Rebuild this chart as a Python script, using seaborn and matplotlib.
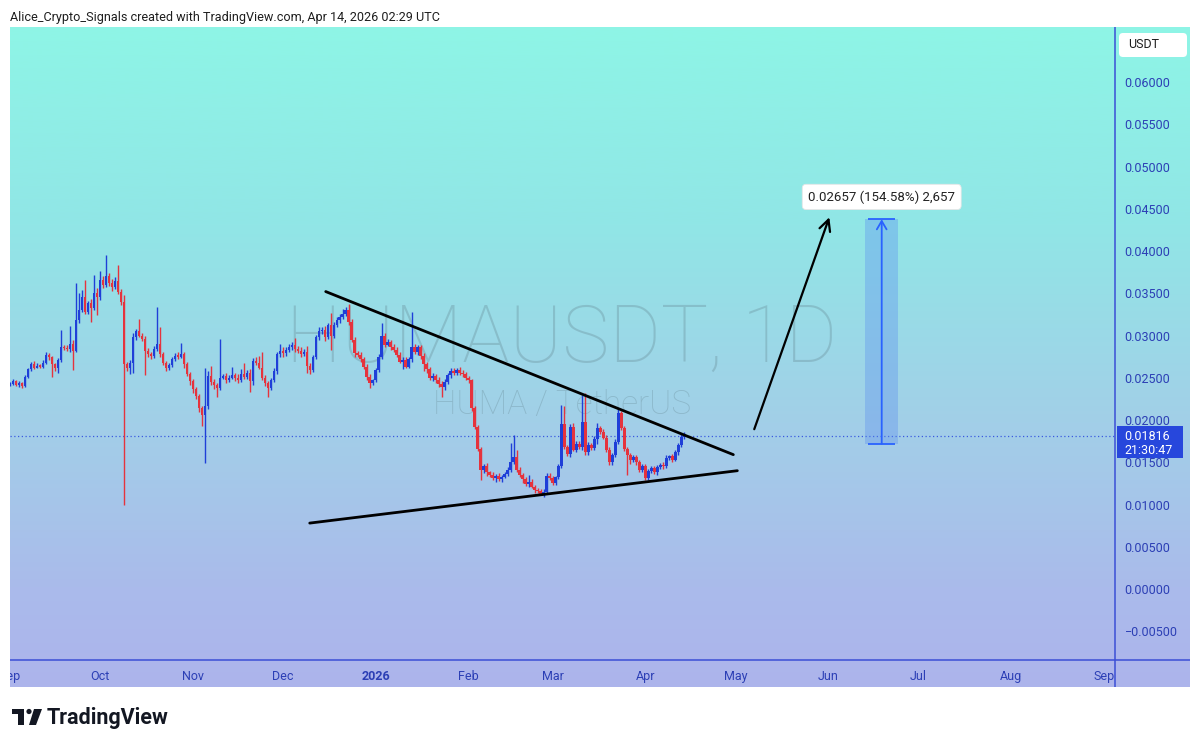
import numpy as np
import pandas as pd
import matplotlib
matplotlib.use("Agg")
import matplotlib.pyplot as plt
import matplotlib.dates as mdates
from matplotlib.colors import LinearSegmentedColormap
from matplotlib.patches import Rectangle, FancyBboxPatch, Polygon, Circle
import seaborn as sns

# --- HUMAUSDT daily candles, 2025-09-01 .. 2026-04-14 ---
first_open = 0.0242
close_sep = [0.0243, 0.0246, 0.0242, 0.0244, 0.0240, 0.0251, 0.0260, 0.0266, 0.0262, 0.0264,
             0.0263, 0.0268, 0.0277, 0.0274, 0.0266, 0.0262, 0.0271, 0.0286, 0.0285, 0.0284,
             0.0290, 0.0282, 0.0318, 0.0330, 0.0346, 0.0328, 0.0338, 0.0333, 0.0350, 0.0345]
close_oct = [0.0366, 0.0360, 0.0370, 0.0362, 0.0357, 0.0365, 0.0352, 0.0340, 0.0266, 0.0262,
             0.0268, 0.0298, 0.0305, 0.0300, 0.0296, 0.0282, 0.0278, 0.0276, 0.0284, 0.0290,
             0.0278, 0.0268, 0.0262, 0.0265, 0.0272, 0.0276, 0.0275, 0.0278, 0.0266, 0.0255,
             0.0246]
close_nov = [0.0237, 0.0228, 0.0214, 0.0206, 0.0216, 0.0252, 0.0245, 0.0241, 0.0238, 0.0250,
             0.0252, 0.0247, 0.0250, 0.0253, 0.0250, 0.0247, 0.0254, 0.0251, 0.0256, 0.0246,
             0.0270, 0.0268, 0.0262, 0.0250, 0.0244, 0.0238, 0.0247, 0.0258, 0.0278, 0.0282]
close_dec = [0.0279, 0.0283, 0.0286, 0.0289, 0.0284, 0.0282, 0.0278, 0.0281, 0.0264, 0.0259,
             0.0275, 0.0298, 0.0305, 0.0307, 0.0298, 0.0312, 0.0300, 0.0313, 0.0318, 0.0322,
             0.0326, 0.0330, 0.0316, 0.0295, 0.0279, 0.0277, 0.0272, 0.0263, 0.0251, 0.0244,
             0.0247]
close_jan = [0.0259, 0.0275, 0.0300, 0.0289, 0.0292, 0.0286, 0.0283, 0.0277, 0.0269, 0.0271,
             0.0263, 0.0272, 0.0286, 0.0280, 0.0286, 0.0276, 0.0266, 0.0260, 0.0250, 0.0252,
             0.0247, 0.0243, 0.0239, 0.0245, 0.0253, 0.0258, 0.0256, 0.0259, 0.0256, 0.0254,
             0.0250]
close_feb = [0.0247, 0.0214, 0.0192, 0.0166, 0.0141, 0.0146, 0.0138, 0.0135, 0.0131, 0.0134,
             0.0130, 0.0133, 0.0136, 0.0141, 0.0150, 0.0156, 0.0141, 0.0135, 0.0130, 0.0124,
             0.0127, 0.0121, 0.0117, 0.0116, 0.0113, 0.0115, 0.0134, 0.0131]
close_mar = [0.0126, 0.0132, 0.0145, 0.0195, 0.0168, 0.0160, 0.0192, 0.0165, 0.0172, 0.0168,
             0.0198, 0.0162, 0.0170, 0.0167, 0.0178, 0.0190, 0.0186, 0.0179, 0.0165, 0.0150,
             0.0158, 0.0174, 0.0208, 0.0190, 0.0166, 0.0158, 0.0153, 0.0156, 0.0150, 0.0141,
             0.0145]
close_apr = [0.0131, 0.0140, 0.0143, 0.0138, 0.0144, 0.0147, 0.0145, 0.0155, 0.0157, 0.0153,
             0.0162, 0.0170, 0.0180, 0.01816]

# wick lengths above / below the candle body, in units of 0.0001 (one row per month)
wick_up = [2, 2, 1, 2, 1, 2, 2, 3, 4, 3, 2, 3, 3, 2, 2, 2, 2, 21, 3, 4, 21, 5, 44, 20, 8, 20, 3, 5, 22, 6,
           10, 5, 25, 4, 5, 4, 18, 3, 8, 3, 3, 5, 3, 14, 3, 4, 3, 2, 3, 44, 20, 3, 2, 3, 2, 3, 4, 13, 3, 3, 2,
           3, 2, 3, 2, 46, 6, 12, 3, 3, 46, 3, 4, 3, 10, 3, 4, 6, 13, 3, 4, 3, 4, 8, 18, 3, 2, 3, 4, 3, 8,
           4, 3, 4, 3, 8, 3, 4, 3, 6, 3, 2, 3, 5, 3, 4, 3, 15, 3, 4, 4, 5, 4, 7, 4, 3, 3, 4, 3, 3, 3, 2,
           3, 3, 15, 3, 4, 3, 4, 3, 4, 3, 3, 3, 42, 4, 3, 3, 3, 3, 3, 4, 3, 4, 3, 3, 3, 3, 4, 3, 4, 3, 3,
           2, 2, 2, 2, 2, 2, 3, 2, 3, 2, 3, 2, 3, 3, 23, 26, 8, 3, 2, 3, 8, 3, 2, 3, 2, 3, 3, 3,
           3, 2, 3, 23, 21, 3, 3, 5, 3, 3, 32, 34, 4, 3, 3, 6, 3, 3, 3, 3, 3, 4, 6, 3, 3, 2, 3, 3, 2, 3, 3,
           3, 2, 3, 3, 3, 2, 3, 3, 2, 3, 2, 3, 4, 4]
wick_dn = [2, 1, 2, 3, 2, 1, 1, 2, 2, 1, 2, 1, 2, 3, 15, 4, 6, 2, 2, 2, 3, 23, 2, 3, 2, 3, 2, 17, 3, 21,
           3, 4, 3, 3, 4, 2, 3, 4, 167, 4, 7, 12, 3, 2, 3, 29, 3, 4, 3, 2, 3, 3, 4, 3, 2, 2, 3, 2, 4, 3, 4,
           5, 3, 5, 13, 57, 3, 4, 4, 11, 3, 2, 3, 2, 2, 4, 3, 2, 3, 2, 13, 4, 3, 2, 3, 4, 11, 3, 2, 3, 3,
           4, 3, 2, 3, 4, 3, 4, 2, 8, 4, 2, 3, 3, 3, 4, 2, 17, 3, 3, 3, 2, 3, 3, 3, 4, 3, 3, 3, 4, 6, 3,
           2, 2, 3, 3, 2, 3, 3, 3, 2, 9, 2, 2, 3, 2, 3, 4, 8, 4, 3, 4, 3, 4, 12, 3, 2, 3, 3, 3, 3, 3, 3,
           3, 3, 3, 3, 12, 4, 4, 3, 2, 4, 2, 3, 2, 2, 2, 2, 3, 3, 4, 2, 3, 2, 3, 2, 2, 4, 2, 2,
           3, 3, 2, 2, 2, 3, 4, 2, 3, 2, 4, 3, 3, 3, 2, 6, 2, 2, 3, 3, 3, 2, 2, 2, 3, 23, 5, 3, 3, 3, 3,
           2, 2, 3, 2, 3, 2, 3, 2, 2, 3, 2, 3, 2, 2]

last_price = 0.01816
y_ticks = [-0.005, 0.0, 0.005, 0.01, 0.015, 0.02, 0.025, 0.03, 0.035, 0.04, 0.045, 0.05, 0.055, 0.06]
month_labels = ["Sep", "Oct", "Nov", "Dec", "2026", "Feb", "Mar", "Apr", "May", "Jun", "Jul", "Aug", "Sep"]

# drawings on the chart
upper_line_dates = ["2025-12-15 08:00", "2026-04-30 08:00"]
upper_line_prices = [0.0352, 0.0159]
lower_line_dates = ["2025-12-10 00:00", "2026-05-01 16:00"]
lower_line_prices = [0.0078, 0.0140]
arrow_dates = ["2026-05-07 00:00", "2026-06-01 16:00"]
arrow_prices = [0.0186, 0.0443]
measure_dates = ["2026-06-13 08:00", "2026-06-24 08:00"]
measure_prices = [0.017189, 0.043759]
measure_label = "0.02657 (154.58%) 2,657"

# ---------------------------------------------------------------
closes = np.array(close_sep + close_oct + close_nov + close_dec + close_jan + close_feb + close_mar + close_apr)
wu = np.array(wick_up) * 1e-4
wd = np.array(wick_dn) * 1e-4
dates = pd.date_range("2025-09-01", periods=len(closes), freq="D")
x = mdates.date2num(dates)
opens = np.concatenate([[first_open], closes[:-1]])
top = np.maximum(opens, closes)
bot = np.minimum(opens, closes)
highs = top + wu
lows = bot - wd
up_col, dn_col = "#1f3fd8", "#e5333d"
colors = np.where(closes >= opens, up_col, dn_col)

sns.set_style("white")
plt.rcParams["font.family"] = ["Roboto", "DejaVu Sans"]

fig = plt.figure(figsize=(12, 7.47), dpi=100)
fig.patch.set_facecolor("white")

# background panel (pixel coordinates)
bg = fig.add_axes([10 / 1200, 1 - 687 / 747, 1180 / 1200, 660 / 747], zorder=0)
bg.set_xlim(10, 1190)
bg.set_ylim(687, 27)
bg.axis("off")
cmap = LinearSegmentedColormap.from_list("tv", [(0, "#8ef5e6"), (0.3, "#91e6e6"), (0.6, "#a2cfe8"),
                                                (0.85, "#aabbeb"), (1.0, "#adb4ec")])
grad = np.linspace(0, 1, 256).reshape(-1, 1)
bg.imshow(grad, cmap=cmap, aspect="auto", extent=[10, 1190, 687, 27], interpolation="bicubic")
axis_blue = "#3b4fd6"
bg.plot([1115, 1115], [27, 687], color=axis_blue, lw=1.1)
bg.plot([10, 1190], [660, 660], color=axis_blue, lw=1.1)
bg.text(562, 362, "HUMAUSDT, 1D", fontsize=57, fontweight="light", color="#5f7f8a", alpha=0.3,
        ha="center", va="baseline")
bg.text(562, 414, "HUMA / TetherUS", fontsize=24, fontweight="light", color="#5f7f8a", alpha=0.3,
        ha="center", va="baseline")

# main price axes
ax = fig.add_axes([10 / 1200, 1 - 660 / 747, 1105 / 1200, 633 / 747], zorder=1)
ax.patch.set_alpha(0)
for s in ax.spines.values():
    s.set_visible(False)

ax.vlines(x, lows, highs, colors=colors, lw=1.0, zorder=3)
ax.bar(x, np.maximum(top - bot, 0.00015), bottom=bot, width=0.8, color=colors, linewidth=0, zorder=4)

x0 = mdates.date2num(pd.Timestamp("2025-09-01"))
ax.set_xlim(x0 + 0.33, x0 + 368.67)
ax.set_ylim(-0.008402, 0.066509)

ax.axhline(last_price, color="#3b5be0", lw=0.9, ls=(0, (1, 2)), zorder=2)

# triangle
sns.lineplot(x=mdates.date2num(pd.to_datetime(upper_line_dates)), y=upper_line_prices, ax=ax,
             color="black", lw=2.0, zorder=5)
sns.lineplot(x=mdates.date2num(pd.to_datetime(lower_line_dates)), y=lower_line_prices, ax=ax,
             color="black", lw=2.0, zorder=5)

# projected move arrow
ad = mdates.date2num(pd.to_datetime(arrow_dates))
ax.annotate("", xy=(ad[1], arrow_prices[1]), xytext=(ad[0], arrow_prices[0]),
            arrowprops=dict(arrowstyle="->,head_length=0.8,head_width=0.4", color="black", lw=1.6), zorder=6)

# measure tool
md = mdates.date2num(pd.to_datetime(measure_dates))
ax.add_patch(Rectangle((md[0], measure_prices[0]), md[1] - md[0], measure_prices[1] - measure_prices[0],
                       facecolor="#5b8def", alpha=0.35, linewidth=0, zorder=3))
mx = (md[0] + md[1]) / 2
ax.hlines(measure_prices, md[0] + 1, md[1] - 1, color="#2962ff", lw=1.3, zorder=6)
ax.annotate("", xy=(mx, measure_prices[1]), xytext=(mx, measure_prices[0]),
            arrowprops=dict(arrowstyle="->,head_length=0.6,head_width=0.35", color="#2962ff", lw=1.3,
                            shrinkA=0, shrinkB=0), zorder=6)
ax.text(mx, 0.0464, measure_label, ha="center", va="center", fontsize=9.5, color="#222222", zorder=7,
        bbox=dict(boxstyle="round,pad=0.45,rounding_size=0.3", facecolor="white", edgecolor="#e6e6e6", lw=0.6))

# axes ticks
tick_col = "#2c3fb5"
ax.yaxis.tick_right()
ax.set_yticks(y_ticks)
ax.set_yticklabels([("\u2212%.5f" % -v) if v < 0 else ("%.5f" % v) for v in y_ticks])
month_starts = pd.date_range("2025-09-01", "2026-09-01", freq="MS")
ax.set_xticks(mdates.date2num(month_starts))
ax.set_xticklabels(month_labels)
ax.tick_params(axis="y", length=0, pad=7, labelsize=9, labelcolor=tick_col)
ax.tick_params(axis="x", length=0, pad=7, labelsize=9, labelcolor=tick_col)
for lab in ax.get_xticklabels():
    if lab.get_text() == "2026":
        lab.set_fontweight("bold")
ax.grid(False)
first_tick = ax.xaxis.get_major_ticks()[0].label1
first_tick.set_clip_on(True)
first_tick.set_clip_box(bg.bbox)

# overlay for header, footer, price tag
ov = fig.add_axes([0, 0, 1, 1], zorder=2)
ov.set_xlim(0, 1200)
ov.set_ylim(747, 0)
ov.axis("off")
ov.patch.set_alpha(0)
ov.text(10, 17, "Alice_Crypto_Signals created with TradingView.com, Apr 14, 2026 02:29 UTC",
        fontsize=9.1, color="#1e1e1e", va="center", ha="left")
ov.add_patch(FancyBboxPatch((1119, 33), 68, 24, boxstyle="round,pad=0,rounding_size=4",
                            facecolor="white", edgecolor="none"))
ov.text(1128, 45, "USDT", fontsize=9, color="#1e1e1e", va="center", ha="left")
ov.add_patch(Rectangle((1117, 426), 66, 32, facecolor="#2747dc", edgecolor="none"))
ov.text(1124, 436, "0.01816", fontsize=9, color="white", va="center", ha="left")
ov.text(1124, 450, "21:30:47", fontsize=9, color="white", va="center", ha="left")

# TradingView logo + wordmark
ov.add_patch(Polygon([(12, 709), (24, 709), (24, 725), (18, 725), (18, 714), (12, 714)],
                     closed=True, facecolor="#131722", edgecolor="none"))
ov.add_patch(Circle((29, 711.5), 2.6, facecolor="#131722", edgecolor="none"))
ov.add_patch(Polygon([(34, 709), (42, 709), (36, 725), (29, 725)], closed=True,
                     facecolor="#131722", edgecolor="none"))
ov.text(47, 718, "TradingView", fontsize=15.5, fontweight="bold", color="#131722", va="center", ha="left")

fig.savefig("out.png", dpi=100, facecolor="white")
